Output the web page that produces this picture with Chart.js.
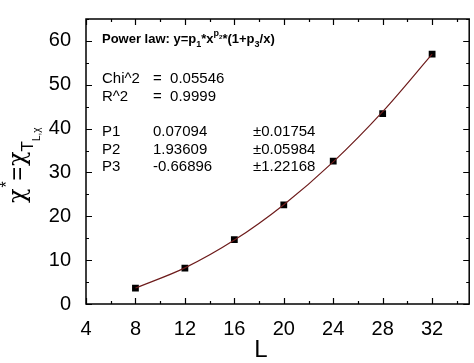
<!DOCTYPE html>
<html>
<head>
<meta charset="utf-8">
<script src="https://cdn.jsdelivr.net/npm/chart.js@4"></script>
<style>
  html, body { margin: 0; padding: 0; background: #fff; }
  #wrap { width: 474px; height: 363px; }
</style>
</head>
<body>
<div id="wrap"><canvas id="fit-chart"></canvas></div>
<script>
// values
const sizesL = [8, 12, 16, 20, 24, 28, 32];
const chiValues = [3.6, 8.2, 14.7, 22.6, 32.6, 43.4, 57.0];
const fitValues = [3.64, 8.23, 14.57, 22.65, 32.41, 43.87, 56.99];
const xTickLabels = [4, 8, 12, 16, 20, 24, 28, 32];
const yTickLabels = [0, 10, 20, 30, 40, 50, 60];

const sans = "'Liberation Sans', Arial, sans-serif";
const serif = "'DejaVu Serif', 'Liberation Serif', serif";

// draw a run of text pieces: [text, fontSize, bold, dy, family]
const drawRun = (ctx, x, y, parts) => {
    parts.forEach(p => {
        const [txt, size, bold, dy, fam] = p;
        ctx.font = (bold ? 'bold ' : '') + size + 'px ' + (fam || sans);
        ctx.fillText(txt, x, y + (dy || 0));
        x += ctx.measureText(txt).width;
    });
    return x;
};

const framePlugin = {
    id: 'frame',
    afterDraw(chart) {
        const { ctx, chartArea: a, scales } = chart;
        ctx.save();
        ctx.strokeStyle = '#000';
        ctx.lineWidth = 1.5;
        ctx.strokeRect(a.left, a.top, a.right - a.left, a.bottom - a.top);

        // inward ticks on all four sides
        ctx.lineWidth = 1.2;
        ctx.beginPath();
        scales.x.ticks.forEach(t => {
            const px = Math.round(scales.x.getPixelForValue(t.value)) + 0.5;
            const len = t.value % 4 === 0 ? 6 : 3;
            ctx.moveTo(px, a.bottom); ctx.lineTo(px, a.bottom - len);
            ctx.moveTo(px, a.top); ctx.lineTo(px, a.top + len);
        });
        scales.y.ticks.forEach(t => {
            const py = Math.round(scales.y.getPixelForValue(t.value)) + 0.5;
            const len = t.value % 10 === 0 ? 6 : 3;
            ctx.moveTo(a.left, py); ctx.lineTo(a.left + len, py);
            ctx.moveTo(a.right, py); ctx.lineTo(a.right - len, py);
        });
        ctx.stroke();

        // fit report
        ctx.fillStyle = '#000';
        ctx.textBaseline = 'alphabetic';
        drawRun(ctx, 102, 43, [
            ['Power law: y=p', 13, true], ['1', 9, true, 4], ['*x', 13, true],
            ['p', 9, true, -7], ['2', 6, true, -4], ['*(1+p', 13, true], ['3', 9, true, 4], ['/x)', 13, true]
        ]);
        ctx.font = '15px ' + sans;
        const rows = [
            [83, 'Chi^2', '=  0.05546', ''],
            [101, 'R^2', '=  0.9999', ''],
            [136, 'P1', '0.07094', '\u00b10.01754'],
            [154, 'P2', '1.93609', '\u00b10.05984'],
            [171, 'P3', '-0.66896', '\u00b11.22168']
        ];
        rows.forEach(([y, a1, b1, c1]) => {
            ctx.fillText(a1, 102, y);
            ctx.fillText(b1, 153, y);
            if (c1) ctx.fillText(c1, 253, y);
        });

        // axis titles
        ctx.font = '24px ' + sans;
        ctx.textAlign = 'center';
        ctx.fillText('L', 261, 357);
        ctx.textAlign = 'left';

        ctx.translate(25, 203);
        ctx.rotate(-Math.PI / 2);
        drawRun(ctx, 0, 0, [
            ['\u03c7', 24, false, 0, serif], [' ', 3], ['*', 16, false, -13], [' ', 2],
            ['=', 24, false, 0], [' ', 3], ['\u03c7', 24, false, 0, serif],
            ['T', 17, false, 8], ['L,\u03c7', 10, false, 15]
        ]);
        ctx.restore();
    }
};

const ctx = document.getElementById('fit-chart').getContext('2d');
new Chart(ctx, {
    type: 'scatter',
    data: {
        datasets: [
            {
                label: 'fit',
                data: sizesL.map((x, i) => ({ x, y: fitValues[i] })),
                showLine: true,
                borderColor: '#6e1c1c',
                borderWidth: 1.2,
                pointRadius: 0,
                tension: 0.4,
                cubicInterpolationMode: 'monotone'
            },
            {
                label: 'chi',
                data: sizesL.map((x, i) => ({ x, y: chiValues[i] })),
                pointStyle: 'rect',
                pointRadius: 4.8,
                backgroundColor: '#000',
                borderColor: '#000',
                borderWidth: 0
            }
        ]
    },
    options: {
        responsive: true,
        maintainAspectRatio: false,
        animation: false,
        layout: { padding: { top: 9, right: 4, left: 0, bottom: 0 } },
        plugins: { legend: { display: false }, tooltip: { enabled: false } },
        scales: {
            x: {
                type: 'linear', min: 4, max: 35,
                grid: { display: false }, border: { display: false },
                afterFit: s => { s.height = 59; },
                afterBuildTicks: s => { s.ticks = []; for (let v = 4; v <= 34; v += 2) s.ticks.push({ value: v }); },
                ticks: {
                    padding: 5, color: '#000', maxRotation: 0, autoSkip: false,
                    font: { size: 20, family: sans },
                    callback: v => xTickLabels.includes(v) ? String(v) : ''
                }
            },
            y: {
                min: 0, max: 65,
                grid: { display: false }, border: { display: false },
                afterFit: s => { s.width = 86; },
                afterBuildTicks: s => { s.ticks = []; for (let v = 0; v <= 65; v += 5) s.ticks.push({ value: v }); },
                ticks: {
                    padding: 7, color: '#000', autoSkip: false,
                    font: { size: 20, family: sans },
                    callback: v => yTickLabels.includes(v) ? String(v) : ''
                }
            }
        }
    },
    plugins: [framePlugin]
});
</script>
</body>
</html>
